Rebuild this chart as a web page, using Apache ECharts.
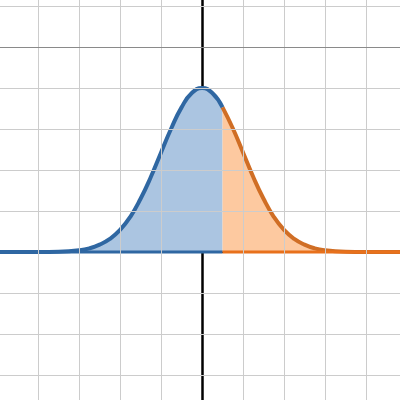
<!DOCTYPE html>
<html>
<head>
<meta charset="utf-8">
<script src="https://cdn.jsdelivr.net/npm/echarts@6/dist/echarts.min.js"></script>
<style>html,body{margin:0;padding:0;background:#fff}#c{width:400px;height:400px}</style>
</head>
<body>
<div id="c"></div>
<script>
// curve values (peak 4, tails flat)
var leftX  = [-5, -4, -3.5, -3, -2.75, -2.5, -2.25, -2, -1.75, -1.5, -1.25, -1, -0.75, -0.5, -0.25, 0, 0.25, 0.5];
var leftY  = [0, 0.001, 0.009, 0.044, 0.09, 0.18, 0.32, 0.54, 0.86, 1.30, 1.83, 2.43, 3.02, 3.53, 3.88, 4, 3.88, 3.53];
var rightX = [0.5, 0.75, 1, 1.25, 1.5, 1.75, 2, 2.25, 2.5, 2.75, 3, 3.5, 4, 5];
var rightY = [3.53, 3.02, 2.43, 1.83, 1.30, 0.86, 0.54, 0.32, 0.18, 0.09, 0.044, 0.009, 0.001, 0];
var cut = 0.5;
var xGrid = [-4, -3, -2, -1, 1, 2, 3, 4];
var yGrid = [-3, -2, -1, 1, 2, 3, 4, 6];
var yMajor = [5];

function pairs(xs, ys){ return xs.map(function(x,i){ return [x, ys[i]]; }); }

var chart = echarts.init(document.getElementById('c'));

var gridLines = xGrid.map(function(v){ return {xAxis: v}; })
  .concat(yGrid.map(function(v){ return {yAxis: v}; }));

chart.setOption({
  animation: false,
  grid: {left: 0, top: 0, right: 0, bottom: 0},
  xAxis: {
    type: 'value', min: -4.93, max: 4.83,
    axisLine: {onZero: true, lineStyle: {color: '#000', width: 2}},
    axisTick: {show: false}, axisLabel: {show: false}, splitLine: {show: false}
  },
  yAxis: {
    type: 'value', min: -3.61, max: 6.15,
    axisLine: {onZero: true, lineStyle: {color: '#000', width: 2.5}},
    axisTick: {show: false}, axisLabel: {show: false}, splitLine: {show: false}
  },
  series: [
    {
      type: 'line', data: [], silent: true,
      markLine: {symbol: 'none', silent: true, label: {show: false},
        lineStyle: {color: '#cccccc', width: 1, type: 'solid'}, data: gridLines}
    },
    {
      type: 'line', data: [], silent: true,
      markLine: {symbol: 'none', silent: true, label: {show: false},
        lineStyle: {color: '#8a8a8a', width: 1, type: 'solid'},
        data: yMajor.map(function(v){ return {yAxis: v}; })}
    },
    {
      type: 'line', data: pairs(leftX, leftY), smooth: true, showSymbol: false,
      lineStyle: {color: '#2f67a2', width: 4},
      areaStyle: {color: '#abc5e1', opacity: 1}, z: 3
    },
    {
      type: 'line', data: pairs(rightX, rightY), smooth: true, showSymbol: false,
      lineStyle: {color: '#d06e25', width: 4},
      areaStyle: {color: '#fdc9a0', opacity: 1}, z: 3
    },
    {
      type: 'line', data: [[-5, 0], [cut, 0]], showSymbol: false,
      lineStyle: {color: '#2f67a2', width: 3}, z: 4
    },
    {
      type: 'line', data: [[cut, 0], [5, 0]], showSymbol: false,
      lineStyle: {color: '#e8711c', width: 3}, z: 4
    }
  ]
});
</script>
</body>
</html>
